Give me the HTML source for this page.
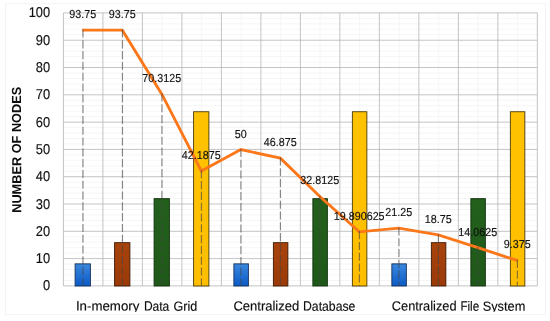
<!DOCTYPE html>
<html><head><meta charset="utf-8"><title>Chart</title>
<style>
html,body{margin:0;padding:0;background:#fff;}
svg{display:block;font-family:"Liberation Sans",sans-serif;text-rendering:geometricPrecision;}
</style></head><body>
<svg width="550" height="321" viewBox="0 0 550 321">
<defs>
<linearGradient id="gb" x1="0" y1="0" x2="0" y2="1"><stop offset="0" stop-color="#3a88de"/><stop offset="1" stop-color="#0b5ac6"/></linearGradient>
<linearGradient id="gr" x1="0" y1="0" x2="0" y2="1"><stop offset="0" stop-color="#a8430c"/><stop offset="1" stop-color="#9a3a08"/></linearGradient>
<linearGradient id="gg" x1="0" y1="0" x2="0" y2="1"><stop offset="0" stop-color="#22601c"/><stop offset="1" stop-color="#1f5919"/></linearGradient>
<linearGradient id="gy" x1="0" y1="0" x2="0" y2="1"><stop offset="0" stop-color="#ffc200"/><stop offset="1" stop-color="#ffbf00"/></linearGradient>
<clipPath id="cl"><rect x="0" y="0" width="550" height="311.8"/></clipPath>
</defs>
<rect x="0" y="0" width="550" height="321" fill="#fff"/>
<rect x="5.6" y="3.7" width="539.9" height="311" fill="none" stroke="#f0f3f7" stroke-width="1"/>

<g stroke="#f4f4f4" stroke-width="0.8" fill="none">
<line x1="63.4" x2="537.35" y1="280.44" y2="280.44"/>
<line x1="63.4" x2="537.35" y1="274.98" y2="274.98"/>
<line x1="63.4" x2="537.35" y1="269.52" y2="269.52"/>
<line x1="63.4" x2="537.35" y1="264.06" y2="264.06"/>
<line x1="63.4" x2="537.35" y1="253.14" y2="253.14"/>
<line x1="63.4" x2="537.35" y1="247.68" y2="247.68"/>
<line x1="63.4" x2="537.35" y1="242.22" y2="242.22"/>
<line x1="63.4" x2="537.35" y1="236.76" y2="236.76"/>
<line x1="63.4" x2="537.35" y1="225.84" y2="225.84"/>
<line x1="63.4" x2="537.35" y1="220.38" y2="220.38"/>
<line x1="63.4" x2="537.35" y1="214.93" y2="214.93"/>
<line x1="63.4" x2="537.35" y1="209.47" y2="209.47"/>
<line x1="63.4" x2="537.35" y1="198.55" y2="198.55"/>
<line x1="63.4" x2="537.35" y1="193.09" y2="193.09"/>
<line x1="63.4" x2="537.35" y1="187.63" y2="187.63"/>
<line x1="63.4" x2="537.35" y1="182.17" y2="182.17"/>
<line x1="63.4" x2="537.35" y1="171.25" y2="171.25"/>
<line x1="63.4" x2="537.35" y1="165.79" y2="165.79"/>
<line x1="63.4" x2="537.35" y1="160.33" y2="160.33"/>
<line x1="63.4" x2="537.35" y1="154.87" y2="154.87"/>
<line x1="63.4" x2="537.35" y1="143.95" y2="143.95"/>
<line x1="63.4" x2="537.35" y1="138.49" y2="138.49"/>
<line x1="63.4" x2="537.35" y1="133.03" y2="133.03"/>
<line x1="63.4" x2="537.35" y1="127.57" y2="127.57"/>
<line x1="63.4" x2="537.35" y1="116.65" y2="116.65"/>
<line x1="63.4" x2="537.35" y1="111.19" y2="111.19"/>
<line x1="63.4" x2="537.35" y1="105.73" y2="105.73"/>
<line x1="63.4" x2="537.35" y1="100.27" y2="100.27"/>
<line x1="63.4" x2="537.35" y1="89.35" y2="89.35"/>
<line x1="63.4" x2="537.35" y1="83.89" y2="83.89"/>
<line x1="63.4" x2="537.35" y1="78.44" y2="78.44"/>
<line x1="63.4" x2="537.35" y1="72.98" y2="72.98"/>
<line x1="63.4" x2="537.35" y1="62.06" y2="62.06"/>
<line x1="63.4" x2="537.35" y1="56.60" y2="56.60"/>
<line x1="63.4" x2="537.35" y1="51.14" y2="51.14"/>
<line x1="63.4" x2="537.35" y1="45.68" y2="45.68"/>
<line x1="63.4" x2="537.35" y1="34.76" y2="34.76"/>
<line x1="63.4" x2="537.35" y1="29.30" y2="29.30"/>
<line x1="63.4" x2="537.35" y1="23.84" y2="23.84"/>
<line x1="63.4" x2="537.35" y1="18.38" y2="18.38"/>
<line x1="83.15" x2="83.15" y1="12.92" y2="285.9"/>
<line x1="122.64" x2="122.64" y1="12.92" y2="285.9"/>
<line x1="162.14" x2="162.14" y1="12.92" y2="285.9"/>
<line x1="201.64" x2="201.64" y1="12.92" y2="285.9"/>
<line x1="241.13" x2="241.13" y1="12.92" y2="285.9"/>
<line x1="280.63" x2="280.63" y1="12.92" y2="285.9"/>
<line x1="320.12" x2="320.12" y1="12.92" y2="285.9"/>
<line x1="359.62" x2="359.62" y1="12.92" y2="285.9"/>
<line x1="399.11" x2="399.11" y1="12.92" y2="285.9"/>
<line x1="438.61" x2="438.61" y1="12.92" y2="285.9"/>
<line x1="478.11" x2="478.11" y1="12.92" y2="285.9"/>
<line x1="517.60" x2="517.60" y1="12.92" y2="285.9"/>
</g>
<g stroke="#b5b5b5" stroke-width="0.8" fill="none">
<line x1="63.4" x2="537.35" y1="285.90" y2="285.90"/>
<line x1="63.4" x2="537.35" y1="258.60" y2="258.60"/>
<line x1="63.4" x2="537.35" y1="231.30" y2="231.30"/>
<line x1="63.4" x2="537.35" y1="204.01" y2="204.01"/>
<line x1="63.4" x2="537.35" y1="176.71" y2="176.71"/>
<line x1="63.4" x2="537.35" y1="149.41" y2="149.41"/>
<line x1="63.4" x2="537.35" y1="122.11" y2="122.11"/>
<line x1="63.4" x2="537.35" y1="94.81" y2="94.81"/>
<line x1="63.4" x2="537.35" y1="67.52" y2="67.52"/>
<line x1="63.4" x2="537.35" y1="40.22" y2="40.22"/>
<line x1="63.4" x2="537.35" y1="12.92" y2="12.92"/>
<line x1="63.40" x2="63.40" y1="12.92" y2="285.9"/>
<line x1="102.90" x2="102.90" y1="12.92" y2="285.9"/>
<line x1="142.39" x2="142.39" y1="12.92" y2="285.9"/>
<line x1="181.89" x2="181.89" y1="12.92" y2="285.9"/>
<line x1="221.38" x2="221.38" y1="12.92" y2="285.9"/>
<line x1="260.88" x2="260.88" y1="12.92" y2="285.9"/>
<line x1="300.38" x2="300.38" y1="12.92" y2="285.9"/>
<line x1="339.87" x2="339.87" y1="12.92" y2="285.9"/>
<line x1="379.37" x2="379.37" y1="12.92" y2="285.9"/>
<line x1="418.86" x2="418.86" y1="12.92" y2="285.9"/>
<line x1="458.36" x2="458.36" y1="12.92" y2="285.9"/>
<line x1="497.85" x2="497.85" y1="12.92" y2="285.9"/>
<line x1="537.35" x2="537.35" y1="12.92" y2="285.9"/>
</g>
<rect x="75.10" y="263.86" width="15.3" height="22.14" fill="url(#gb)" stroke="#16305a" stroke-width="0.9"/>
<rect x="114.59" y="242.67" width="15.3" height="43.33" fill="url(#gr)" stroke="#3d1a06" stroke-width="0.9"/>
<rect x="154.09" y="198.65" width="15.3" height="87.35" fill="url(#gg)" stroke="#12300e" stroke-width="0.9"/>
<rect x="193.59" y="111.74" width="15.3" height="174.26" fill="url(#gy)" stroke="#4a3a08" stroke-width="0.9"/>
<rect x="233.88" y="263.86" width="14.5" height="22.14" fill="url(#gb)" stroke="#16305a" stroke-width="0.9"/>
<rect x="273.38" y="242.67" width="14.5" height="43.33" fill="url(#gr)" stroke="#3d1a06" stroke-width="0.9"/>
<rect x="312.87" y="198.65" width="14.5" height="87.35" fill="url(#gg)" stroke="#12300e" stroke-width="0.9"/>
<rect x="352.37" y="111.74" width="14.5" height="174.26" fill="url(#gy)" stroke="#4a3a08" stroke-width="0.9"/>
<rect x="391.86" y="263.86" width="14.5" height="22.14" fill="url(#gb)" stroke="#16305a" stroke-width="0.9"/>
<rect x="431.36" y="242.67" width="14.5" height="43.33" fill="url(#gr)" stroke="#3d1a06" stroke-width="0.9"/>
<rect x="470.86" y="198.65" width="14.5" height="87.35" fill="url(#gg)" stroke="#12300e" stroke-width="0.9"/>
<rect x="510.35" y="111.74" width="14.5" height="174.26" fill="url(#gy)" stroke="#4a3a08" stroke-width="0.9"/>
<polyline points="82.25,30.18 122.34,30.18 161.84,94.16 201.34,170.94 240.83,149.61 280.33,158.14 319.82,196.53 359.32,231.80 398.81,228.09 438.31,234.92 477.81,247.71 517.87,260.69" fill="none" stroke="#fc771a" stroke-width="2.85" stroke-linejoin="miter" stroke-linecap="butt"/>
<g stroke="#444" stroke-width="1.2" stroke-dasharray="8.1 2.7" fill="none" opacity="0.62">
<line x1="82.95" x2="82.95" y1="29.48" y2="285.9"/>
<line x1="122.44" x2="122.44" y1="29.48" y2="285.9"/>
<line x1="161.94" x2="161.94" y1="93.46" y2="285.9"/>
<line x1="201.44" x2="201.44" y1="170.24" y2="285.9"/>
<line x1="240.93" x2="240.93" y1="148.91" y2="285.9"/>
<line x1="280.43" x2="280.43" y1="157.44" y2="285.9"/>
<line x1="319.92" x2="319.92" y1="195.83" y2="285.9"/>
<line x1="359.42" x2="359.42" y1="231.10" y2="285.9"/>
<line x1="398.91" x2="398.91" y1="227.39" y2="285.9"/>
<line x1="438.41" x2="438.41" y1="234.22" y2="285.9"/>
<line x1="477.91" x2="477.91" y1="247.01" y2="285.9"/>
<line x1="517.40" x2="517.40" y1="259.81" y2="285.9"/>
</g>
<g font-size="11.6" fill="#101010" stroke="#101010" stroke-width="0.15" text-anchor="middle">
<text transform="translate(82.75,18.08) rotate(0.03) scale(0.925,1)">93.75</text>
<text transform="translate(122.24,18.08) rotate(0.03) scale(0.925,1)">93.75</text>
<text transform="translate(161.74,82.06) rotate(0.03) scale(0.925,1)">70.3125</text>
<text transform="translate(201.24,158.84) rotate(0.03) scale(0.925,1)">42.1875</text>
<text transform="translate(240.73,137.51) rotate(0.03) scale(0.925,1)">50</text>
<text transform="translate(280.23,146.04) rotate(0.03) scale(0.925,1)">46.875</text>
<text transform="translate(319.72,184.43) rotate(0.03) scale(0.925,1)">32.8125</text>
<text transform="translate(359.22,219.70) rotate(0.03) scale(0.925,1)">19.890625</text>
<text transform="translate(398.71,215.99) rotate(0.03) scale(0.925,1)">21.25</text>
<text transform="translate(438.21,222.82) rotate(0.03) scale(0.925,1)">18.75</text>
<text transform="translate(477.71,235.61) rotate(0.03) scale(0.925,1)">14.0625</text>
<text transform="translate(517.20,248.41) rotate(0.03) scale(0.925,1)">9.375</text>
</g>
<g font-size="14.2" fill="#101010" stroke="#101010" stroke-width="0.15" text-anchor="end">
<text transform="translate(50.1,290.40) rotate(0.03) scale(0.905,1)">0</text>
<text transform="translate(50.1,263.10) rotate(0.03) scale(0.905,1)">10</text>
<text transform="translate(50.1,235.80) rotate(0.03) scale(0.905,1)">20</text>
<text transform="translate(50.1,208.51) rotate(0.03) scale(0.905,1)">30</text>
<text transform="translate(50.1,181.21) rotate(0.03) scale(0.905,1)">40</text>
<text transform="translate(50.1,153.91) rotate(0.03) scale(0.905,1)">50</text>
<text transform="translate(50.1,126.61) rotate(0.03) scale(0.905,1)">60</text>
<text transform="translate(50.1,99.31) rotate(0.03) scale(0.905,1)">70</text>
<text transform="translate(50.1,72.02) rotate(0.03) scale(0.905,1)">80</text>
<text transform="translate(50.1,44.72) rotate(0.03) scale(0.905,1)">90</text>
<text transform="translate(50.1,17.42) rotate(0.03) scale(0.905,1)">100</text>
</g>
<text transform="translate(21.1,149.8) rotate(-90.1)" font-size="13.1" font-weight="bold" fill="#0c0c0c" text-anchor="middle" textLength="126" lengthAdjust="spacingAndGlyphs">NUMBER OF NODES</text>
<g font-size="13.3" fill="#0c0c0c" stroke="#0c0c0c" stroke-width="0.15" clip-path="url(#cl)">
<text transform="translate(75.90,310.5) rotate(0.1)"><tspan x="0.00" textLength="63.50" lengthAdjust="spacingAndGlyphs">In-memory</tspan> <tspan x="68.00" textLength="25.40" lengthAdjust="spacingAndGlyphs">Data</tspan> <tspan x="97.70" textLength="23.70" lengthAdjust="spacingAndGlyphs">Grid</tspan></text>
<text transform="translate(233.40,310.5) rotate(0.1)"><tspan x="0.00" textLength="65.80" lengthAdjust="spacingAndGlyphs">Centralized</tspan> <tspan x="69.60" textLength="52.40" lengthAdjust="spacingAndGlyphs">Database</tspan></text>
<text transform="translate(391.80,310.5) rotate(0.1)"><tspan x="0.00" textLength="64.80" lengthAdjust="spacingAndGlyphs">Centralized</tspan> <tspan x="68.60" textLength="18.70" lengthAdjust="spacingAndGlyphs">File</tspan> <tspan x="90.90" textLength="42.60" lengthAdjust="spacingAndGlyphs">System</tspan></text>
</g>
</svg></body></html>
